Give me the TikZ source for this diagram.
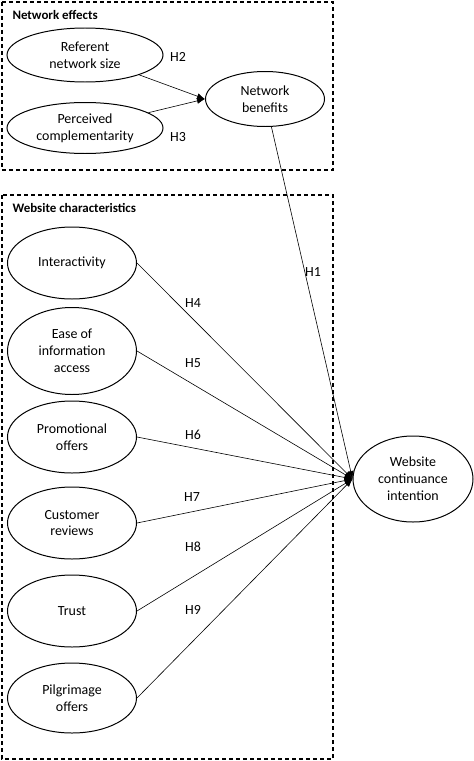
\documentclass[tikz,border=0pt]{standalone}
\usepackage{fontspec}
\setmainfont{Carlito}
\usetikzlibrary{arrows.meta, shapes.geometric}
\begin{document}
\begin{tikzpicture}[x=1bp, y=-1bp,
  every node/.style={font=\fontsize{14}{17}\selectfont, align=center},
  var/.style={draw, ellipse, line width=1pt, inner sep=0pt},
  netvar/.style={var, minimum width=156bp, minimum height=54bp},
  webvar/.style={var, minimum width=129bp, minimum height=72bp},
  box/.style={line width=1.1pt, dash pattern=on 4bp off 3bp},
  arr/.style={-{Latex[length=8bp, width=6bp]}, line width=0.6pt}]
\useasboundingbox (0,0) rectangle (474,761);

% dashed groups
\draw[box] (2,2) rectangle (333,170);
\draw[box] (2,195) rectangle (333,759);
\node[anchor=west, font=\fontsize{13}{17}\selectfont\bfseries] (NE) at (9,15) {Network effects};
\node[anchor=west, font=\fontsize{13}{17}\selectfont\bfseries] (WC) at (9,208) {Website characteristics};

\node[netvar] (RNS) at (85,55) {Referent\\network size};
\node[netvar, minimum height=51bp] (PC) at (85,128) {Perceived\\complementarity};
\node[var, minimum width=119bp, minimum height=55bp] (NB) at (265,99) {Network\\benefits};

\node[webvar] (I) at (72,263) {Interactivity};
\node[webvar, minimum height=87bp] (E) at (72,351) {Ease of\\information\\access};
\node[webvar] (P) at (72,437) {Promotional\\offers};
\node[webvar] (C) at (72,523) {Customer\\reviews};
\node[webvar] (T) at (72,611) {Trust};
\node[webvar, minimum height=70bp] (G) at (72,698) {Pilgrimage\\offers};

\node[var, minimum width=120bp, minimum height=86bp] (W) at (413,479) {Website\\continuance\\intention};

\draw[arr] (RNS) to (NB.west);
\draw[arr] (PC) to (NB.west);
\draw[arr] (NB) to (W.west);
\draw[arr] (I.east) to (W.west);
\draw[arr] (E.east) to (W.west);
\draw[arr] (P.east) to (W.west);
\draw[arr] (C.east) to (W.west);
\draw[arr] (T.east) to (W.west);
\draw[arr] (G.east) to (W.west);

% hypotheses
\node (H2) at (178,57) {H2};
\node (H3) at (178,137) {H3};
\node (H1) at (313,272) {H1};
\node (H4) at (193,303) {H4};
\node (H5) at (193,363) {H5};
\node (H6) at (193,435) {H6};
\node (H7) at (192,497) {H7};
\node (H8) at (193,547) {H8};
\node (H9) at (193,610) {H9};
\end{tikzpicture}
\end{document}
